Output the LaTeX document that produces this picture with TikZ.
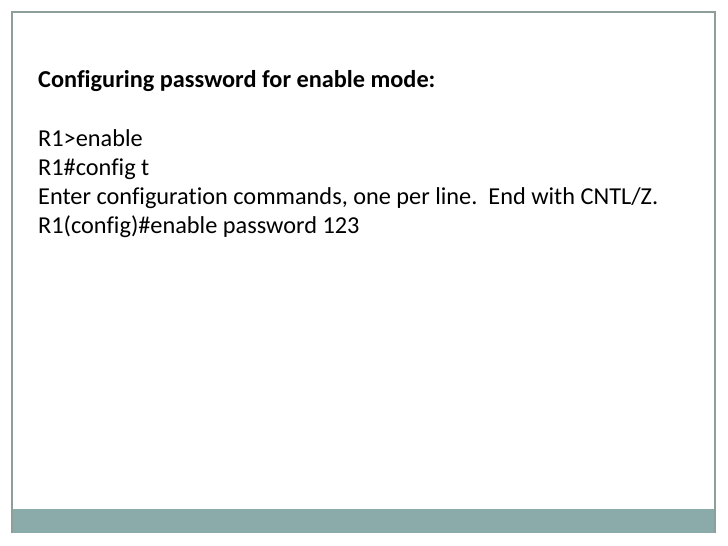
\documentclass[tikz,border=0pt]{standalone}
\usepackage{fontspec}
\setmainfont[Ligatures=NoCommon]{Carlito}
\usetikzlibrary{positioning}
\definecolor{framegray}{HTML}{8E9E98}
\definecolor{bandteal}{HTML}{8AABAA}
\tikzset{
  cmdline/.style={anchor=base west, inner sep=0pt, font=\fontsize{24.3}{29}\selectfont},
  titleline/.style={cmdline, font=\fontsize{24.3}{29}\selectfont\bfseries}
}

\begin{document}
\begin{tikzpicture}[x=1pt,y=-1pt]
    % Page
    \useasboundingbox (0,0) rectangle (728,546);
    \fill[white] (0,0) rectangle (728,546);

    % Frame and bottom band
    \fill[bandteal] (12,509) rectangle (715,533);
    \draw[framegray,line width=1.5pt] (12,533) -- (12,12) -- (715,12) -- (715,533);%

    % Text
    \node[titleline] (title) at (38,87) {Configuring password for enable mode:};%
    \node[cmdline] (enable) at (38,146) {R1>enable};%
    \node[cmdline] (conft) at (38,175) {R1\#config t};%
    \node[cmdline] (enter) at (38,204) {Enter configuration commands, one per line.\ \ End with CNTL/Z.};%
    \node[cmdline] (passwd) at (38,233) {R1(config)\#enable password 123};%
\end{tikzpicture}
\end{document}
